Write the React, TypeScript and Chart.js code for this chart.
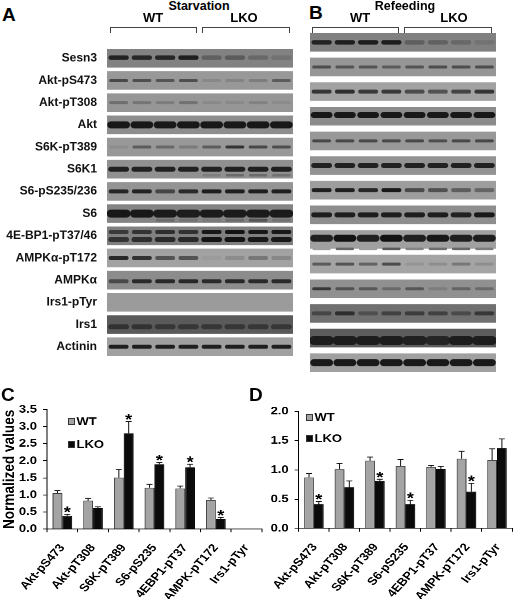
import React, { useEffect, useRef } from "react";
import { Chart, registerables } from "chart.js";

Chart.register(...registerables);

const FONT = "'Liberation Sans', Arial, Helvetica, sans-serif";

// ---------- Western blot data (panels A and B) ----------
const blotRows = [
  "Sesn3", "Akt-pS473", "Akt-pT308", "Akt", "S6K-pT389", "S6K1", "S6-pS235/236",
  "S6", "4E-BP1-pT37/46", "AMPKα-pT172", "AMPKα", "Irs1-pTyr", "Irs1", "Actinin",
];
const laneGroups = ["WT", "LKO"];

// band darkness (0 = none, 1 = black), 8 lanes: 4 WT + 4 LKO
const starvationBands = [
  [0.85, 0.8, 0.82, 0.88, 0.3, 0.35, 0.22, 0.15],
  [0.6, 0.55, 0.5, 0.55, 0.12, 0.15, 0.2, 0.45],
  [0.3, 0.25, 0.2, 0.28, 0.1, 0.1, 0.15, 0.08],
  [0.95, 0.95, 0.95, 0.95, 0.95, 0.95, 0.95, 0.95],
  [0.08, 0.45, 0.35, 0.22, 0.45, 0.75, 0.6, 0.55],
  [0.88, 0.88, 0.88, 0.88, 0.88, 0.88, 0.9, 0.9],
  [0.85, 0.88, 0.6, 0.82, 0.9, 0.9, 0.9, 0.9],
  [0.95, 0.95, 0.92, 0.9, 0.92, 0.92, 0.92, 0.92],
  [0.65, 0.7, 0.75, 0.72, 0.95, 0.98, 0.95, 0.95],
  [0.85, 0.78, 0.55, 0.55, 0.05, 0.15, 0.3, 0.18],
  [0.55, 0.8, 0.82, 0.82, 0.8, 0.82, 0.8, 0.8],
  [0, 0, 0, 0, 0, 0, 0, 0],
  [0.55, 0.55, 0.5, 0.5, 0.5, 0.5, 0.5, 0.5],
  [0.9, 0.9, 0.9, 0.9, 0.9, 0.9, 0.9, 0.9],
];
const starvationLowerBands = [
  null, null, null, null, null,
  [0, 0, 0, 0, 0.15, 0.3, 0.3, 0.25],
  null,
  [0, 0, 0.2, 0.15, 0.1, 0.2, 0.4, 0.15],
  [0.7, 0.75, 0.78, 0.8, 0.98, 0.98, 0.95, 0.95],
  null, null, null, null, null,
];
const refeedingBands = [
  [0.85, 0.88, 0.9, 0.9, 0.3, 0.28, 0.22, 0.12],
  [0.55, 0.5, 0.5, 0.45, 0.5, 0.55, 0.55, 0.55],
  [0.75, 0.8, 0.72, 0.72, 0.6, 0.55, 0.65, 0.75],
  [0.95, 0.95, 0.95, 0.95, 0.95, 0.95, 0.95, 0.95],
  [0.6, 0.6, 0.6, 0.6, 0.6, 0.55, 0.6, 0.6],
  [0.88, 0.88, 0.88, 0.88, 0.88, 0.88, 0.88, 0.88],
  [0.9, 0.9, 0.85, 0.95, 0.6, 0.55, 0.45, 0.4],
  [0.9, 0.9, 0.9, 0.9, 0.9, 0.9, 0.88, 0.95],
  [0.9, 1, 0.9, 1, 0.9, 0.95, 0.9, 0.92],
  [0.5, 0.55, 0.45, 0.6, 0.1, 0.15, 0.3, 0.15],
  [0.7, 0.5, 0.45, 0.3, 0.45, 0.15, 0.35, 0.3],
  [0.45, 0.7, 0.35, 0.5, 0.55, 0.5, 0.4, 0.6],
  [0.85, 0.85, 0.85, 0.85, 0.8, 0.75, 0.85, 0.85],
  [0.95, 0.95, 0.95, 0.95, 0.95, 0.95, 0.95, 0.95],
];
const refeedingLowerBands = [
  null, null, null, null, null, null, null, null,
  [0, 0.4, 0, 0.5, 0.2, 0.35, 0.4, 0.25],
  null, null, null, null, null,
];

// ---------- Quantification data (panels C and D) ----------
const proteins = ["Akt-pS473", "Akt-pT308", "S6K-pT389", "S6-pS235", "4EBP1-pT37", "AMPK-pT172", "Irs1-pTyr"];
const seriesNames = ["WT", "LKO"];
const yTicksC = [0, 0.5, 1.0, 1.5, 2.0, 2.5, 3.0, 3.5];
const yTicksD = [0, 0.5, 1.0, 1.5, 2.0];

const starvationWT = [1.06, 0.83, 1.51, 1.21, 1.19, 0.85, null];
const starvationWTErr = [0.07, 0.07, 0.24, 0.1, 0.07, 0.06, null];
const starvationLKO = [0.39, 0.61, 2.81, 1.9, 1.81, 0.3, null];
const starvationLKOErr = [0.04, 0.04, 0.34, 0.05, 0.09, 0.04, null];
const starvationSig = [true, false, true, true, true, true, false];

const refeedingWT = [0.87, 1.01, 1.16, 1.07, 1.05, 1.19, 1.17];
const refeedingWTErr = [0.07, 0.1, 0.06, 0.11, 0.02, 0.13, 0.19];
const refeedingLKO = [0.41, 0.7, 0.81, 0.41, 1.02, 0.63, 1.37];
const refeedingLKOErr = [0.05, 0.11, 0.03, 0.07, 0.04, 0.14, 0.16];
const refeedingSig = [true, false, true, true, false, true, false];

// ---------- styles ----------
const blotStyleA = {
  bg: [130, 152, 150, 142, 152, 144, 148, 132, 128, 162, 140, 155, 90, 160],
  width: [4.5, 3, 3, 7, 3, 5, 4, 8, 4, 4, 4, 0, 5, 4],
  offset: [-0.03, 0, 0, 0, 0, 0, 0, 0, -0.17, 0, 0.05, 0, 0.1, 0],
  lowerWidth: [0, 0, 0, 0, 0, 2.5, 0, 3, 5, 0, 0, 0, 0, 0],
  lowerOffset: [0, 0, 0, 0, 0, 0.27, 0, 0.3, 0.17, 0, 0, 0, 0, 0],
};
const blotStyleB = {
  bg: [128, 150, 162, 140, 152, 147, 157, 142, 160, 164, 144, 112, 92, 160],
  width: [4.5, 3, 4, 6, 3, 5, 4, 5, 7, 3, 3, 4, 9, 7],
  offset: [0, 0, 0, -0.05, 0, 0, 0, 0, -0.05, 0, 0, 0, 0.1, 0],
  lowerWidth: [0, 0, 0, 0, 0, 0, 0, 0, 2.5, 0, 0, 0, 0, 0],
  lowerOffset: [0, 0, 0, 0, 0, 0, 0, 0, 0.38, 0, 0, 0, 0, 0],
};

const mix = (bg: number, d: number) => {
  const v = Math.round(bg * (1 - d) + 18 * d);
  return `rgb(${v},${v},${v})`;
};

function bandDataset(row: number, intens: number[], offset: number, width: number, bg: number) {
  return {
    data: intens.flatMap((_, i) => [
      { x: i + 0.16, y: row + offset },
      { x: i + 0.84, y: row + offset },
      { x: i + 0.9, y: null },
    ]),
    borderWidth: width,
    borderCapStyle: "round",
    borderColor: mix(bg, intens[0]),
    segment: {
      borderColor: (ctx: any) => mix(bg, intens[Math.floor(ctx.p0DataIndex / 3)] || 0),
    },
    pointRadius: 0,
    spanGaps: false,
    fill: false,
    soft: true,
    order: 1,
  };
}

const softBands = {
  id: "softBands",
  beforeDatasetDraw(chart: any, args: any) {
    const ds = chart.data.datasets[args.index];
    if (ds.soft) {
      chart.ctx.save();
      chart.ctx.filter = "blur(0.7px)";
    }
  },
  afterDatasetDraw(chart: any, args: any) {
    const ds = chart.data.datasets[args.index];
    if (ds.soft) chart.ctx.restore();
  },
};

function blotConfig(bands: number[][], lower: (number[] | null)[], style: any, showLabels: boolean) {
  const datasets: any[] = [];
  bands.forEach((row, r) => {
    if (style.width[r] > 0) datasets.push(bandDataset(r, row, style.offset[r], style.width[r], style.bg[r]));
    const lw = lower[r];
    if (lw) datasets.push(bandDataset(r, lw, style.lowerOffset[r], style.lowerWidth[r], style.bg[r]));
  });
  datasets.push({
    data: blotRows.flatMap((_, r) => [
      { x: 0, y: r },
      { x: laneGroups.length * 4, y: r },
      { x: laneGroups.length * 4, y: null },
    ]),
    borderWidth: 18.6,
    borderCapStyle: "butt",
    borderColor: mix(style.bg[0], 0),
    segment: { borderColor: (ctx: any) => mix(style.bg[Math.floor(ctx.p0DataIndex / 3)], 0) },
    pointRadius: 0,
    spanGaps: false,
    fill: false,
    order: 10,
  });
  return {
    type: "line",
    data: { datasets },
    plugins: [softBands],
    options: {
      animation: false,
      responsive: false,
      devicePixelRatio: 2,
      events: [],
      layout: { padding: 0 },
      plugins: { legend: { display: false }, tooltip: { enabled: false } },
      scales: {
        x: { type: "linear", min: 0, max: 8, display: false },
        y: {
          type: "linear",
          min: -0.5,
          max: blotRows.length - 0.5,
          reverse: true,
          display: showLabels,
          grid: { display: false, drawTicks: false },
          border: { display: false },
          afterBuildTicks: (s: any) => {
            s.ticks = blotRows.map((_, i) => ({ value: i }));
          },
          afterFit: (s: any) => {
            s.width = showLabels ? 107 : 0;
          },
          ticks: {
            autoSkip: false,
            padding: 10,
            color: "#111",
            font: { family: FONT, size: 12, weight: "bold" },
            callback: (v: any) => blotRows[v] ?? "",
          },
        },
      },
    },
  };
}

// ---------- bar chart pieces ----------
function makeBarPlugin(legendX: number, legendYs: number[]) {
  return {
    id: "errStarLegend",
    afterDatasetsDraw(chart: any) {
      const ctx = chart.ctx;
      const yScale = chart.scales.y;
      chart.data.datasets.forEach((ds: any, di: number) => {
        const meta = chart.getDatasetMeta(di);
        meta.data.forEach((bar: any, i: number) => {
          const v = ds.data[i];
          const e = ds.errors?.[i];
          if (v == null || e == null) return;
          const yTop = yScale.getPixelForValue(v + e);
          ctx.save();
          ctx.strokeStyle = "#111";
          ctx.lineWidth = 1;
          ctx.beginPath();
          ctx.moveTo(bar.x, bar.y);
          ctx.lineTo(bar.x, yTop);
          ctx.moveTo(bar.x - 3, yTop);
          ctx.lineTo(bar.x + 3, yTop);
          ctx.stroke();
          if (ds.sig?.[i]) {
            ctx.fillStyle = "#000";
            ctx.font = `bold 18px ${FONT}`;
            ctx.textAlign = "center";
            ctx.textBaseline = "alphabetic";
            ctx.fillText("*", bar.x, yTop + 4);
          }
          ctx.restore();
        });
      });
      // legend
      chart.data.datasets.forEach((ds: any, di: number) => {
        const y = legendYs[di];
        ctx.save();
        ctx.fillStyle = ds.backgroundColor;
        ctx.fillRect(legendX, y, 7, 8);
        ctx.strokeStyle = "#333";
        ctx.lineWidth = 1;
        ctx.strokeRect(legendX + 0.5, y + 0.5, 6, 7);
        ctx.fillStyle = "#000";
        ctx.font = `bold 13px ${FONT}`;
        ctx.textBaseline = "alphabetic";
        ctx.textAlign = "left";
        ctx.fillText(ds.label, legendX + 8.5, y + 8);
        ctx.restore();
      });
    },
  };
}

function barConfig(o: any) {
  return {
    type: "bar",
    data: {
      labels: proteins,
      datasets: [
        {
          label: seriesNames[0],
          data: o.wt,
          errors: o.wtErr,
          backgroundColor: "#a4a4a4",
          borderColor: "#3a3a3a",
          borderWidth: 1,
          categoryPercentage: 0.64,
          barPercentage: 1,
        },
        {
          label: seriesNames[1],
          data: o.lko,
          errors: o.lkoErr,
          sig: o.sig,
          backgroundColor: "#0b0b0b",
          borderColor: "#000",
          borderWidth: 1,
          categoryPercentage: 0.64,
          barPercentage: 1,
        },
      ],
    },
    plugins: [makeBarPlugin(o.legendX, o.legendYs)],
    options: {
      animation: false,
      responsive: false,
      devicePixelRatio: 2,
      events: [],
      layout: { padding: { top: o.topPad, right: o.rightPad, left: 0, bottom: 0 } },
      plugins: { legend: { display: false }, tooltip: { enabled: false } },
      scales: {
        x: {
          type: "category",
          grid: { display: true, drawOnChartArea: false, drawTicks: true, tickLength: 4, color: "#000", offset: true },
          border: { display: true, color: "#000", width: 1 },
          ticks: {
            autoSkip: false,
            minRotation: 52,
            maxRotation: 52,
            padding: 11,
            labelOffset: o.labelOffset,
            color: "#000",
            font: { family: FONT, size: 13, weight: "bold" },
          },
          afterFit: (s: any) => {
            s.height = o.xHeight;
          },
        },
        y: {
          type: "linear",
          min: 0,
          max: o.yTicks[o.yTicks.length - 1],
          afterBuildTicks: (s: any) => {
            s.ticks = o.yTicks.map((v: number) => ({ value: v }));
          },
          grid: { display: true, drawOnChartArea: false, drawTicks: true, tickLength: 4, color: "#000" },
          border: { display: true, color: "#000", width: 1 },
          ticks: {
            padding: 6,
            color: "#000",
            font: { family: FONT, size: 13, weight: "bold" },
            callback: (v: any) => Number(v).toFixed(1),
          },
          title: {
            display: !!o.title,
            text: o.title || "",
            color: "#000",
            padding: 0,
            font: { family: FONT, size: 16, weight: "bold" },
          },
          afterFit: (s: any) => {
            s.width = o.yWidth;
          },
        },
      },
    },
  };
}

function ChartCanvas({ config, left, top, width, height, logicalHeight }: any) {
  const ref = useRef<HTMLCanvasElement | null>(null);
  useEffect(() => {
    if (!ref.current) return;
    const chart = new Chart(ref.current, config as any);
    return () => chart.destroy();
  }, []);
  return (
    <canvas
      ref={ref}
      width={width}
      height={logicalHeight ?? height}
      style={{ position: "absolute", left, top, width, height, display: "block" }}
    />
  );
}

const txt = (s: any): React.CSSProperties => ({
  position: "absolute",
  fontFamily: FONT,
  fontWeight: "bold",
  lineHeight: 1,
  whiteSpace: "nowrap",
  color: "#000",
  ...s,
});

function Centered({ cx, top, size, children }: any) {
  return (
    <div style={txt({ left: cx - 60, width: 120, textAlign: "center", top, fontSize: size })}>{children}</div>
  );
}

function Bracket({ left, width }: any) {
  return (
    <div
      style={{
        position: "absolute",
        left,
        top: 27,
        width,
        height: 6,
        borderTop: "1px solid #444",
        borderLeft: "1px solid #444",
        borderRight: "1px solid #444",
        boxSizing: "border-box",
      }}
    />
  );
}

export default function App() {
  const cfgA = blotConfig(starvationBands, starvationLowerBands, blotStyleA, true);
  const cfgB = blotConfig(refeedingBands, refeedingLowerBands, blotStyleB, false);
  const cfgC = barConfig({
    wt: starvationWT,
    wtErr: starvationWTErr,
    lko: starvationLKO,
    lkoErr: starvationLKOErr,
    sig: starvationSig,
    yTicks: yTicksC,
    yWidth: 47,
    topPad: 35,
    rightPad: 2,
    xHeight: 82.5,
    labelOffset: 0,
    title: "Normalized values",
    legendX: 68,
    legendYs: [45, 72],
  });
  const cfgD = barConfig({
    wt: refeedingWT,
    wtErr: refeedingWTErr,
    lko: refeedingLKO,
    lkoErr: refeedingLKOErr,
    sig: refeedingSig,
    yTicks: yTicksD,
    yWidth: 31,
    topPad: 37,
    rightPad: 1.5,
    xHeight: 83.3,
    labelOffset: 1,
    legendX: 44,
    legendYs: [40, 65],
  });

  return (
    <div style={{ position: "fixed", left: 0, top: 0, width: 520, height: 599, background: "#fff", overflow: "hidden" }}>
      <ChartCanvas config={cfgA} left={0} top={30} width={293} height={345} />
      <ChartCanvas config={cfgB} left={310} top={30} width={186} height={345} />
      <ChartCanvas config={cfgC} left={0} top={380} width={270} height={219} logicalHeight={258} />
      <ChartCanvas config={cfgD} left={262} top={380} width={258} height={219} logicalHeight={258} />

      <div style={txt({ left: 2, top: 4.5, fontSize: 19 })}>A</div>
      <div style={txt({ left: 309, top: 2.5, fontSize: 19 })}>B</div>
      <div style={txt({ left: 1, top: 384.5, fontSize: 19 })}>C</div>
      <div style={txt({ left: 249, top: 385, fontSize: 19 })}>D</div>

      <Centered cx={199} top={0.4} size={12.5}>Starvation</Centered>
      <Centered cx={153} top={11.3} size={13}>{laneGroups[0]}</Centered>
      <Centered cx={244} top={11.3} size={13}>{laneGroups[1]}</Centered>
      <Bracket left={110} width={87} />
      <Bracket left={202} width={88} />

      <Centered cx={405} top={0.4} size={12.5}>Refeeding</Centered>
      <Centered cx={360} top={11.3} size={13}>{laneGroups[0]}</Centered>
      <Centered cx={454} top={11.3} size={13}>{laneGroups[1]}</Centered>
      <Bracket left={312} width={87} />
      <Bracket left={404} width={88} />
    </div>
  );
}
